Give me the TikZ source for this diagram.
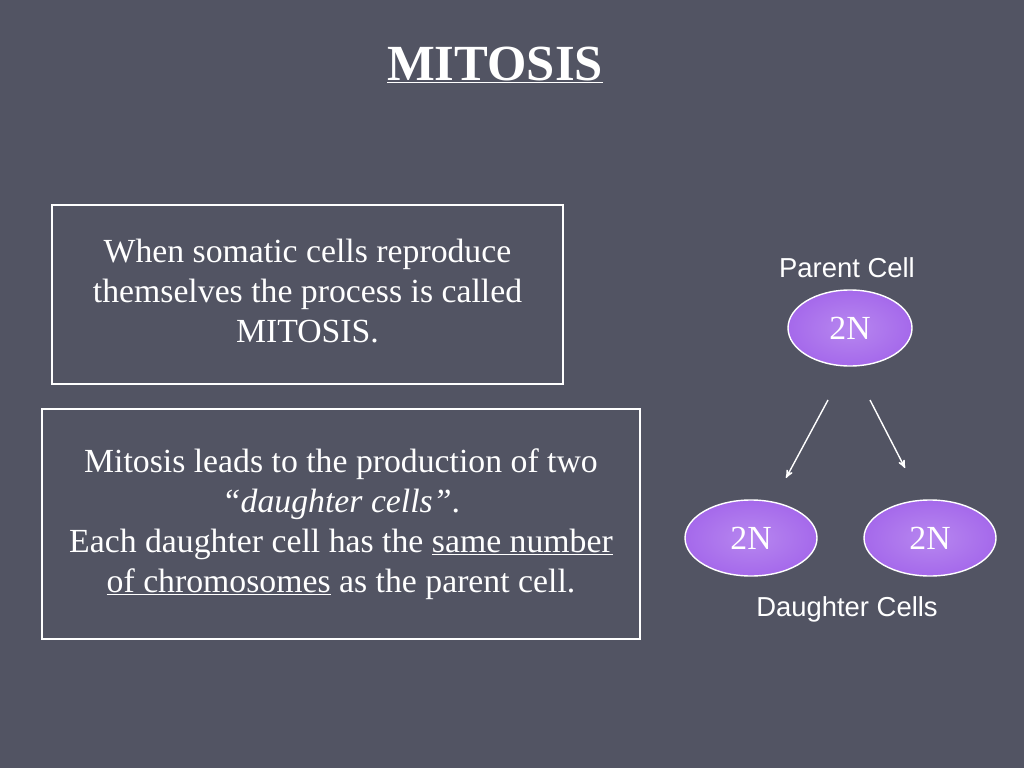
\documentclass[tikz,border=0pt]{standalone}
\usepackage{fontspec}
\setmainfont{Liberation Serif}
\newfontfamily\labelfont{Liberation Sans}
\usetikzlibrary{arrows}
\usetikzlibrary{shapes.geometric}
\definecolor{slate}{RGB}{82,84,99}
\definecolor{cellfill}{RGB}{165,105,235}
\begin{document}
\begin{tikzpicture}[x=0.025cm,y=-0.025cm,>=stealth',auto]
		\tikzstyle{textbox}=[rectangle,draw=white,line width=1.5pt,text=white,align=center,font=\fontsize{24}{28.4}\selectfont];
		\tikzstyle{cell}=[ellipse,draw=white,line width=1pt,inner color=cellfill!80!white,outer color=cellfill,
			text=white,font=\fontsize{24}{26}\selectfont];
		\tikzstyle{celllabel}=[text=white,font=\labelfont\fontsize{19.5}{22}\selectfont];
		\fill[slate](0,0)rectangle(1024,768);
		\node[text=white,font=\bfseries\fontsize{36}{40}\selectfont](title)at(495,65){\underline{MITOSIS}};

		\node[textbox,minimum width=511*0.025cm,minimum height=179*0.025cm](box1)at(307.5,294.5){When somatic cells reproduce\\themselves the process is called\\MITOSIS.\vphantom{g}};
		\node[textbox,minimum width=598*0.025cm,minimum height=230*0.025cm](box2)at(341,524){Mitosis leads to the production of two\\\textit{``daughter cells''}.\\Each daughter cell has the \underline{same number}\\\underline{of chromosomes} as the parent cell.};

		\node[celllabel](parentlabel)at(847,268){Parent Cell};
		\node[cell,minimum width=124*0.025cm,minimum height=76*0.025cm](parent)at(850,328){2N};
		\node[cell,minimum width=132*0.025cm,minimum height=76*0.025cm](left)at(751,538){2N};
		\node[cell,minimum width=132*0.025cm,minimum height=76*0.025cm](right)at(930,538){2N};
		\node[celllabel](daughterlabel)at(847,609){Daughter Cells};

		\coordinate(a1)at(828,400);\coordinate(b1)at(786,478);
		\coordinate(a2)at(870,400);\coordinate(b2)at(905,468);
		\draw[->,white,line width=1pt](a1)--(b1);
		\draw[->,white,line width=1pt](a2)--(b2);
	\end{tikzpicture}
\end{document}
